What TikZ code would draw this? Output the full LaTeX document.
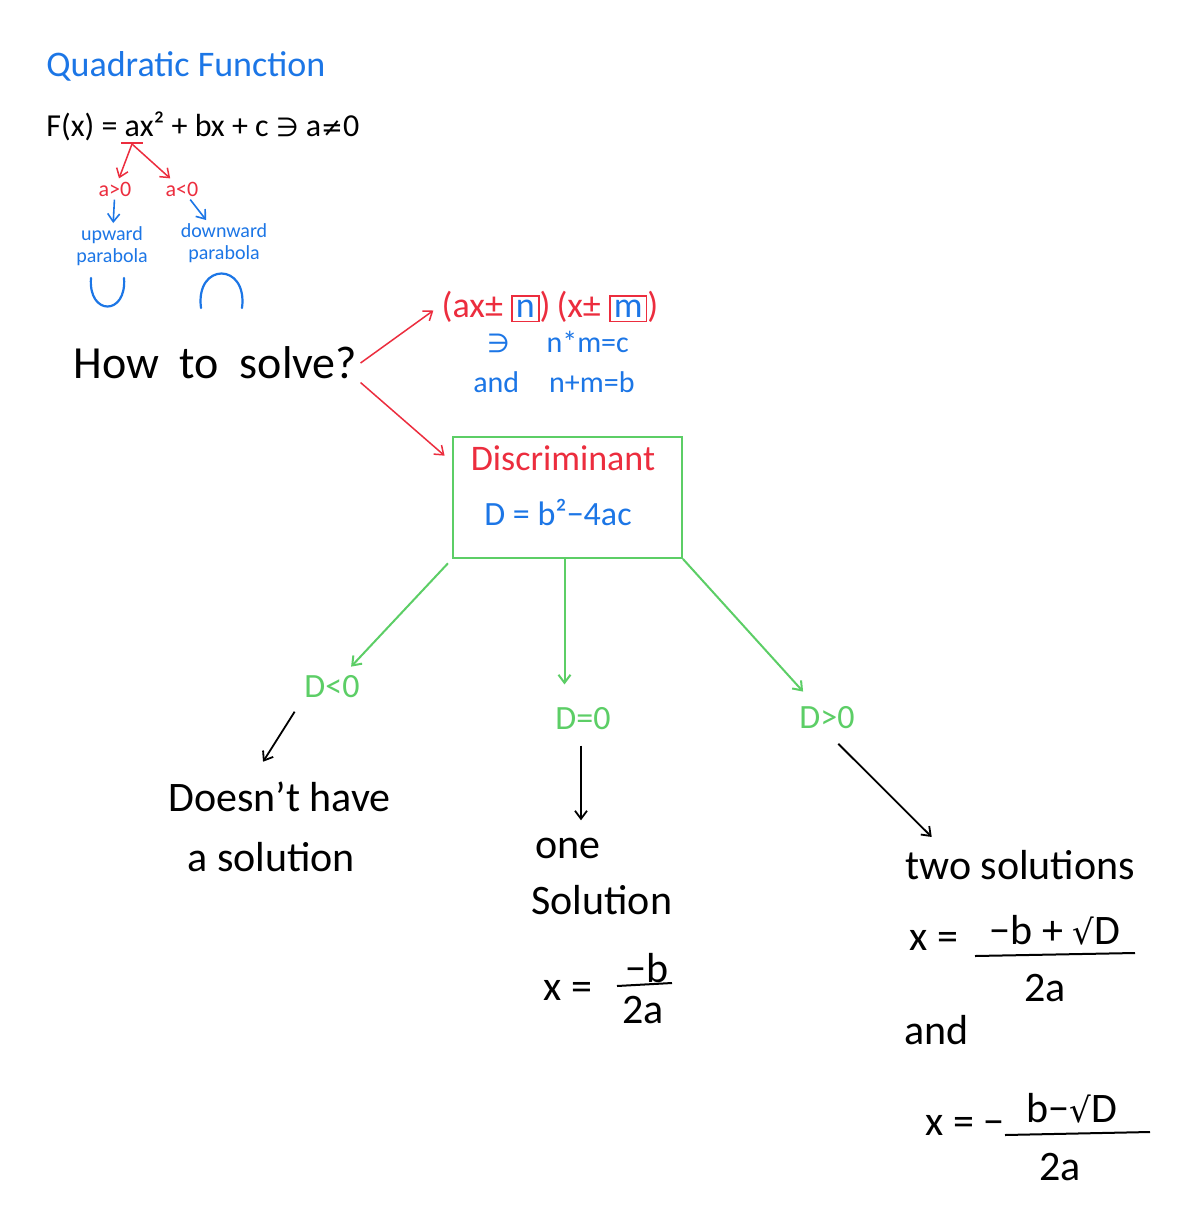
\documentclass[tikz,border=0pt]{standalone}
\usepackage{fontspec}
\setmainfont{Carlito}
\newfontfamily\symf{DejaVu Sans}
\usetikzlibrary{arrows.meta,calc}
\definecolor{qblue}{RGB}{28,118,230}
\definecolor{qred}{RGB}{236,45,62}
\definecolor{qgreen}{RGB}{92,206,102}
\newcommand{\fsz}[2]{\fontsize{#1}{#2}\selectfont}
\setlength{\fboxsep}{1.6pt}
\setlength{\fboxrule}{0.8pt}
\begin{document}
\begin{tikzpicture}[x=0.5pt,y=-0.5pt,
  every node/.style={inner sep=1.5pt},
  tip/.style={-{Straight Barb[length=4pt,width=6pt]}},
  redarr/.style={tip,draw=qred,line width=0.75pt},
  bluearr/.style={tip,draw=qblue,line width=0.8pt},
  greenarr/.style={tip,draw=qgreen,line width=1pt},
  blackarr/.style={tip,draw=black,line width=0.9pt},
  big/.style={font=\fsz{21}{28}},
]
\useasboundingbox[fill=white] (0,0) rectangle (1200,1228);

% title and function
\node[text=qblue,anchor=west,font=\fsz{18}{20}] (title) at (43,66) {Quadratic Function};
\node[anchor=west,font=\fsz{16}{18}] (fx) at (43,126) {F(x) = ax² + bx + c {\symf\fsz{13}{16}∋} a{\symf\fsz{13}{16}≠}0};
\draw[qred,line width=0.9pt] (121,143) -- (143,143);
\coordinate (asplit) at (132,144);

% a>0 / a<0
\node[text=qred,font=\fsz{11}{13}] (agt) at (115,189) {a>0};
\node[text=qred,font=\fsz{11}{13}] (alt) at (182,189) {a<0};
\draw[redarr] (asplit) -- (agt);
\draw[redarr] (asplit) -- (alt);

\node[text=qblue,font=\fsz{10}{11},align=center] (up) at (112,246) {upward\\parabola};
\node[text=qblue,font=\fsz{10}{11},align=center] (down) at (224,243) {downward\\parabola};
\draw[bluearr] (agt) -- (up);
\draw[bluearr] (alt) -- (down);

% parabola sketches
\draw[qblue,line width=1.1pt,line cap=round] (91,278) .. controls (88,316) and (127,316) .. (124,278);
\draw[qblue,line width=1.1pt,line cap=round] (201,308) .. controls (195,262) and (248,262) .. (242,308);

% how to solve
\node[anchor=west,font=\fsz{23}{26}] (how) at (70,363) {How \ to \ solve?};

% factoring
\node[text=qred,font=\fsz{18}{20}] (fac) at (550,307) {(ax± \fcolorbox{qred}{white}{\textcolor{qblue}{n}})\,(x± \fcolorbox{qred}{white}{\textcolor{qblue}{m}})};
\node[text=qblue,font=\fsz{15}{17}] (cond1) at (558,342) {{\symf\fsz{13}{15}∋}\quad\ n*m=c};
\node[text=qblue,font=\fsz{15}{17}] (cond2) at (554,382) {and\quad n+m=b};
\draw[redarr,shorten >=3pt] (how.east) -- (fac.west);

% discriminant box
\node[draw=qgreen,line width=0.9pt,minimum width=114.5pt,minimum height=60.5pt,inner sep=0pt] (disc) at (567.5,497.5) {};
\node[text=qred,font=\fsz{18}{20}] (disct) at (563,458) {Discriminant};
\node[text=qblue,font=\fsz{17}{20}] (discf) at (558,512) {D = b²−4ac};
\draw[redarr,shorten >=5pt] (how.south east) -- (disc.163);

% branches
\node[text=qgreen,font=\fsz{17}{20}] (dlt) at (332,687) {D<0};
\node[text=qgreen,font=\fsz{17}{20}] (deq) at (583,719) {D=0};
\node[text=qgreen,font=\fsz{17}{20}] (dgt) at (827,718) {D>0};
\draw[greenarr,shorten <=3pt,shorten >=4pt] (disc.south west) -- (dlt);
\draw[greenarr,shorten >=10pt] ([xshift=-1.5pt]disc.south) -- ([xshift=-1.5pt]disc.south |- deq.north);
\draw[greenarr,shorten >=8pt] (disc.south east) -- (dgt);

% outcomes
\node[big,anchor=west] (none1) at (165,797) {Doesn't have};
\node[big,anchor=west] (none2) at (184,857) {a solution};
\draw[blackarr,shorten <=6pt,shorten >=10pt] (dlt.south west) -- (none1.146);

\node[big,anchor=west] (one1) at (532,848) {one};
\node[big,anchor=west] (one2) at (528,900) {Solution};
\draw[blackarr,shorten <=6pt,shorten >=7pt] (deq.south -| 581,0) -- (one1.north -| 581,0);

\node[big,anchor=west] (two1) at (902,865) {two solutions};
\draw[blackarr,shorten <=8pt,shorten >=7pt] (dgt.south) -- (two1.167);

% x = -b/2a
\node[big] (ox) at (568,990) {x =};
\node[big] (onum) at (647,968) {−b};
\node[big] (oden) at (643,1010) {2a};
\draw[line width=1pt] (617,986) -- (672,983);

% two solution formulas
\node[big] (tx1) at (934,940) {x =};
\node[big] (tnum1) at (1055,930) {−b + {\symf\fsz{17}{20}√}D};
\node[big] (tden1) at (1045,988) {2a};
\draw[line width=1pt] (975,956) -- (1135,953);

\node[big,anchor=west] (and2) at (901,1030) {and};

\node[big] (tx2) at (965,1125) {x = −};
\node[big] (tnum2) at (1072,1108) {b−{\symf\fsz{17}{20}√}D};
\node[big] (tden2) at (1060,1167) {2a};
\draw[line width=1pt] (1005,1135) -- (1150,1132);
\end{tikzpicture}
\end{document}
